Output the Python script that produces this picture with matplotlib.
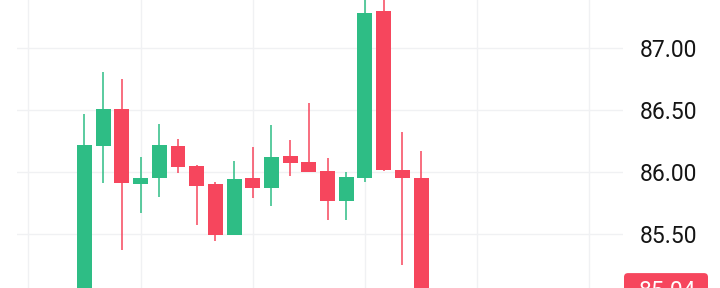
import matplotlib
matplotlib.use("Agg")
import matplotlib.pyplot as plt
from matplotlib.patches import FancyBboxPatch
from matplotlib.transforms import Affine2D

# candle data
opens  = [84.95, 86.21, 86.51, 85.90, 85.95, 86.21, 86.05, 85.90, 85.49, 85.95,
          85.87, 86.13, 86.08, 86.01, 85.77, 85.95, 87.30, 86.02, 85.95]
closes = [86.22, 86.51, 85.91, 85.95, 86.22, 86.04, 85.89, 85.49, 85.94, 85.87,
          86.12, 86.07, 86.00, 85.77, 85.96, 87.28, 86.02, 85.95, 85.04]
highs  = [86.47, 86.81, 86.75, 86.12, 86.39, 86.27, 86.06, 85.92, 86.09, 86.20,
          86.38, 86.26, 86.56, 86.11, 86.00, 87.45, 87.42, 86.32, 86.17]
lows   = [84.90, 85.91, 85.37, 85.67, 85.80, 85.99, 85.57, 85.44, 85.49, 85.79,
          85.73, 85.97, 86.00, 85.61, 85.61, 85.92, 86.01, 85.25, 84.98]
yticks = [85.5, 86.0, 86.5, 87.0]
xgrid = [-3, 3, 9, 15, 21, 27]

UP = "#2ebd85"
DOWN = "#f6465d"
GRID = "#f0f1f3"
TEXT = "#151515"

plt.rcParams['font.family'] = ['Roboto', 'DejaVu Sans']

fig = plt.figure(figsize=(7.2, 2.88), dpi=100)
ax = fig.add_axes([17 / 720, 0, 606 / 720, 1])

n = len(opens)
for i in range(n):
    col = UP if closes[i] >= opens[i] else DOWN
    ax.vlines(i, lows[i], highs[i], color=col, linewidth=1.1, zorder=2)
    lo = min(opens[i], closes[i])
    ax.bar(i, abs(closes[i] - opens[i]), bottom=lo, width=0.8, color=col,
           linewidth=0, zorder=3)

ax.set_xlim(-3.61, 28.8)
ax.set_ylim(85.065, 87.387)

for x in xgrid:
    ax.axvline(x, color=GRID, linewidth=1, zorder=0)
for y in yticks:
    ax.axhline(y, color=GRID, linewidth=1, zorder=0)

ax.yaxis.tick_right()
ax.set_yticks(yticks)
ax.set_yticklabels(["%.2f" % v for v in yticks])
ax.tick_params(axis="y", length=0, pad=12, labelsize=16.5, labelcolor=TEXT)
ax.set_xticks([])
for s in ax.spines.values():
    s.set_visible(False)

# last price tag
last = closes[-1]
xd, yd = ax.get_yaxis_transform().transform((1.0, last))
tag = FancyBboxPatch((1, -18), 84, 36, boxstyle="round,pad=0,rounding_size=4",
                     facecolor=DOWN, edgecolor="none", zorder=5)
ax.add_patch(tag)
tag.set_transform(Affine2D().translate(xd, yd))
tag.set_clip_on(False)
ax.text(1.0 + 16 / 606, last, "%.2f" % last, transform=ax.get_yaxis_transform(),
        ha="left", va="center", fontsize=16.5, color="white",
        clip_on=False, zorder=6)

fig.savefig("out.png", dpi=100)
